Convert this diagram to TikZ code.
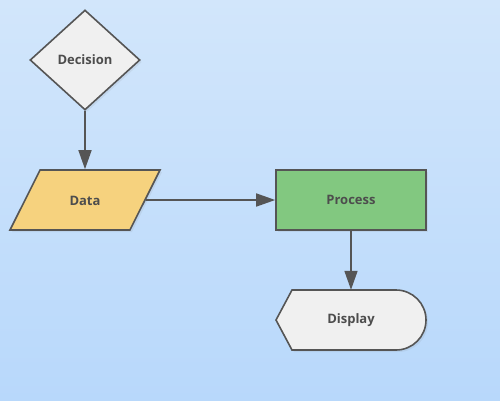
\documentclass[tikz,border=0pt]{standalone}
\usepackage{fontspec}
\setmainfont{Open Sans}
\usetikzlibrary{shapes.geometric,arrows.meta,shadows}
\definecolor{edgegray}{HTML}{555555}
\definecolor{textgray}{HTML}{4D4D4D}
\definecolor{lightfill}{HTML}{F0F0F0}
\definecolor{datafill}{HTML}{F6D27E}
\definecolor{procfill}{HTML}{82C880}
\definecolor{bgtop}{HTML}{D2E6FB}
\definecolor{bgbottom}{HTML}{B8D8FB}
\tikzset{
  label font/.style={text=textgray, font=\fontsize{13}{15}\selectfont\bfseries},
  box/.style={draw=edgegray, line width=1.6pt, label font, inner sep=0pt,
    drop shadow={opacity=0.12, shadow xshift=2pt, shadow yshift=-2pt}},
  link/.style={draw=edgegray, line width=1.6pt, -{Triangle[length=19pt,width=13pt]}}
}
\begin{document}
\begin{tikzpicture}[x=1pt,y=-1pt]
    % Background
    \shade[top color=bgtop, bottom color=bgbottom] (0,0) rectangle (500,400);
    \useasboundingbox (0,0) rectangle (500,400);

    % Shapes
    \node[box, diamond, fill=lightfill, minimum width=110pt, minimum height=100pt,
          aspect=1.1] (decision) at (85,60) {Decision};
    \node[box, trapezium, trapezium left angle=63.4, trapezium right angle=116.6,
          trapezium stretches body, fill=datafill, minimum width=150pt,
          text height=10pt, text depth=0pt, inner ysep=25pt] (data) at (85,200) {Data};
    \node[box, rectangle, fill=procfill, minimum width=150pt,
          minimum height=60pt] (process) at (351,200) {Process};
    \draw[box, fill=lightfill] (276,320) -- (292,290) -- (396,290)
        arc (-90:90:30) -- (292,350) -- cycle;
    \node[label font, minimum width=150pt, minimum height=60pt,
          inner sep=0pt] (display) at (351,320) {Display};

    % Connectors
    \draw[link] (decision) -- (data);
    \draw[link] (data) -- (process);
    \draw[link] (process) -- (display);
\end{tikzpicture}
\end{document}
